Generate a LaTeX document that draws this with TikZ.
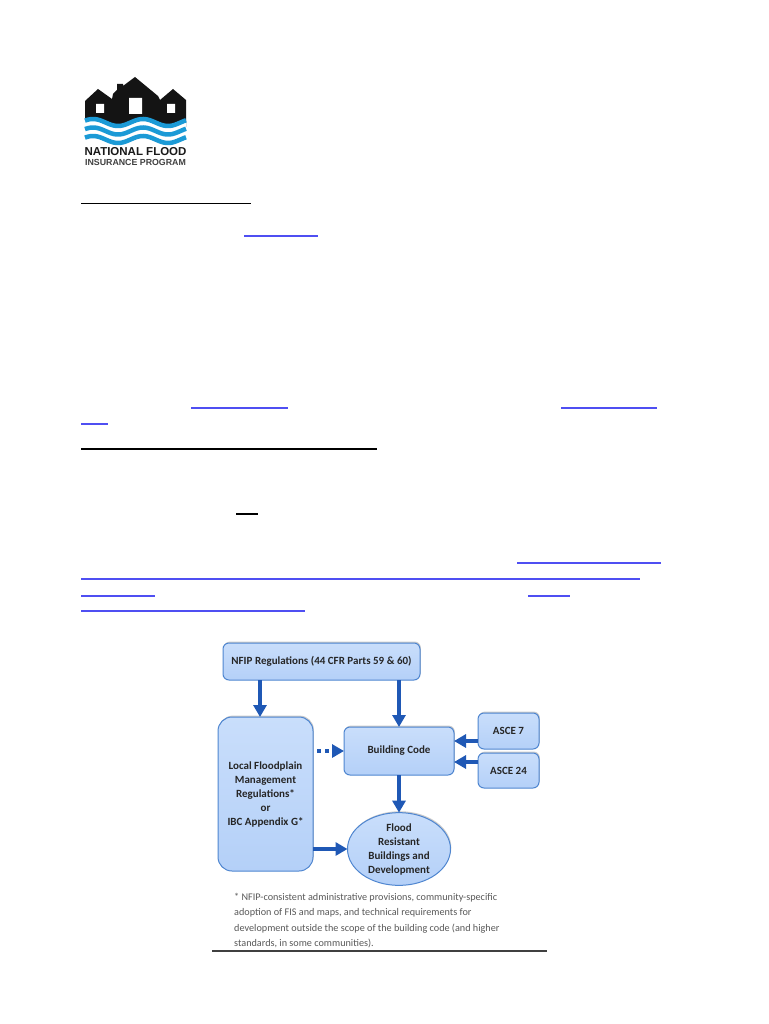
\documentclass[tikz,border=0pt]{standalone}
\usepackage{fontspec}
\setmainfont{Carlito}
\newfontfamily\logofont{Liberation Sans}
\usetikzlibrary{arrows.meta,shadows,shapes.geometric}
\definecolor{boxfill}{HTML}{B4D0F8}
\definecolor{boxtop}{HTML}{C9DEFB}
\definecolor{boxline}{HTML}{4F86D0}
\definecolor{flowblue}{HTML}{1F58B5}
\definecolor{logoblue}{HTML}{1B9AD6}
\definecolor{linkblue}{HTML}{3030F0}
\tikzset{
  flowbox/.style={draw=boxline, line width=1, top color=boxtop, bottom color=boxfill, rounded corners=6, inner sep=0, outer sep=0, align=center, font=\fontsize{11}{14}\selectfont\bfseries, text=black!85, drop shadow={shadow xshift=0.8, shadow yshift=-1.4, opacity=0.4}},
  flowarrow/.style={-{Triangle[width=13,length=12]}, line width=4, draw=flowblue},
  linkrule/.style={draw=linkblue!85, line width=1.2},
  textrule/.style={draw=black, line width=1.6}
}
\begin{document}
\begin{tikzpicture}[x=1pt, y=-1pt]
  \useasboundingbox[fill=white] (0,0) rectangle (768,1024);

  % logo : les maisons
  \fill[black!92] (85,101) -- (98,89) -- (112,99) -- (113,94) -- (117,90) -- (117,84) -- (123,84) -- (123,86) -- (135,77) -- (158,96) -- (160,100) -- (173,89) -- (186,100) -- (186,127) -- (85,127) -- cycle;
  \fill[white] (96,104) rectangle (104,113) (129,98) rectangle (142,114) (167,104) rectangle (175,113);
  % logo : les vagues
  \pgfmathsetmacro\houle{3.5}
  \fill[white] plot[domain=85:186, samples=60] (\x, {122.5 - \houle*cos(7.2*(\x-143))}) -- (186,146) -- (85,146) -- cycle;
  \foreach \j in {0,1,2}
    \draw[logoblue, line width=4.5] plot[domain=85:186, samples=60] (\x, {122.5 + 8.5*\j - \houle*cos(7.2*(\x-143))});
  \node[font=\logofont\bfseries\fontsize{11.5}{12}\selectfont, text=black!90, inner sep=0] (logotitle) at (135.5,152) {NATIONAL FLOOD};
  \node[font=\logofont\bfseries\fontsize{8.8}{9}\selectfont, text=black!75, inner sep=0] (logosub) at (135.5,162) {INSURANCE PROGRAM};

  % les lignes soulignées
  \draw[black, line width=0.9] (81,203) -- (251,203);
  \draw[textrule] (81,449) -- (377,449);
  \draw[textrule] (236,514) -- (258,514);
  \foreach \xa/\xb/\ya in {244/318/236, 191/288/408, 561/657/408, 81/108/424, 517/661/563, 81/640/579, 81/155/596, 528/570/596, 81/305/611}
    \draw[linkrule] (\xa,\ya) -- (\xb,\ya);

  % les boîtes
  \node[flowbox, minimum width=197, minimum height=37] (nfip) at (321.5,661.5) {NFIP Regulations (44 CFR Parts 59 \& 60)};
  \node[flowbox, rounded corners=14, minimum width=95, minimum height=154] (local) at (265.5,794) {Local Floodplain\\Management\\Regulations*\\or\\IBC Appendix G*};
  \node[flowbox, minimum width=110, minimum height=48] (code) at (399,751) {Building Code};
  \node[flowbox, minimum width=61, minimum height=36] (asce7) at (508.5,731) {ASCE 7};
  \node[flowbox, minimum width=61, minimum height=35] (asce24) at (508.5,770.5) {ASCE 24};
  \node[flowbox, ellipse, minimum width=103, minimum height=70] (flood) at (399,849) {Flood\\Resistant\\Buildings and\\Development};

  % les flèches
  \draw[flowarrow] ([xshift=-61.5]nfip.south) -- ([xshift=-5.5]local.north);
  \draw[flowarrow] ([xshift=77.5]nfip.south) -- (code.north);
  \draw[flowarrow] (code.south) -- (flood.north);
  \draw[flowarrow] ([yshift=-10]asce7.west) -- ([yshift=10]code.east);
  \draw[flowarrow] ([yshift=8.5]asce24.west) -- ([yshift=-11]code.east);
  \draw[flowarrow, dash pattern=on 4 off 4, shorten <=4] (local.east |- code.west) -- (code.west);
  \draw[flowarrow] (local.east |- flood.west) -- (flood.west);

  % la note
  \node[anchor=north west, align=left, inner sep=0, text=black!65, font=\fontsize{10.2}{15.4}\selectfont] (note) at (234,893) {* NFIP-consistent administrative provisions, community-specific\\adoption of FIS and maps, and technical requirements for\\development outside the scope of the building code (and higher\\standards, in some communities).};
  \draw[black!75, line width=1.1] (212,951) -- (547,951);
\end{tikzpicture}
\end{document}
